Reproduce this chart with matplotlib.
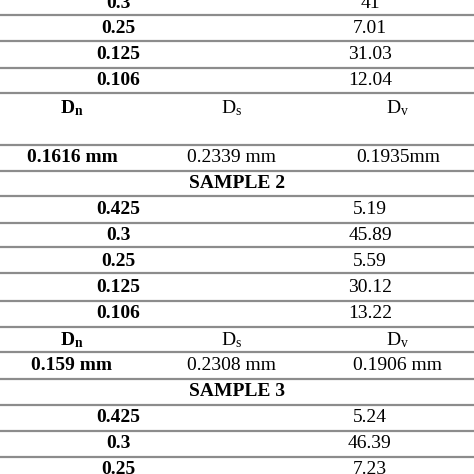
import matplotlib.pyplot as plt

plt.rcParams['font.family'] = 'Liberation Serif'
plt.rcParams['mathtext.fontset'] = 'custom'
plt.rcParams['mathtext.rm'] = 'Liberation Serif'
plt.rcParams['mathtext.bf'] = 'Liberation Serif:bold'

# table content (top is cut off in the reference)
sieve_s1 = ['0.3', '0.25', '0.125', '0.106']
weight_s1 = ['41', '7.01', '31.03', '12.04']
diam_s1 = ['0.1616 mm', '0.2339 mm', '0.1935mm']
sieve_s2 = ['0.425', '0.3', '0.25', '0.125', '0.106']
weight_s2 = ['5.19', '45.89', '5.59', '30.12', '13.22']
diam_s2 = ['0.159 mm', '0.2308 mm', '0.1906 mm']
sieve_s3 = ['0.425', '0.3', '0.25']
weight_s3 = ['5.24', '46.39', '7.23']
diam_heads = [r'$\mathbf{D_n}$', r'$\mathrm{D_s}$', r'$\mathrm{D_v}$']

# layout in pixels
row_y = [3, 28, 54, 80, 108, 158, 184, 209, 235, 261, 287, 313, 340, 365, 392, 418, 443, 470]
line_y = [15, 41, 68, 93, 145, 171, 196, 223, 247, 273, 301, 327, 352, 379, 405, 431, 457]
col3_x = [72, 232, 398]
fs = 14

fig = plt.figure(figsize=(4.74, 4.74), dpi=100)
ax = fig.add_axes([0, 0, 1, 1])
ax.set_xlim(0, 474)
ax.set_ylim(474, 0)
ax.axis('off')

for y in line_y:
    ax.axhline(y, color='#8c8c8c', lw=1.6)

rows = []
for s, w in zip(sieve_s1, weight_s1):
    rows.append(('pair', s, w))
rows.append(('diam', diam_heads, None))
rows.append(('dval', diam_s1, None))
rows.append(('title', 'SAMPLE 2', None))
for s, w in zip(sieve_s2, weight_s2):
    rows.append(('pair', s, w))
rows.append(('diam', diam_heads, None))
rows.append(('dval', diam_s2, None))
rows.append(('title', 'SAMPLE 3', None))
for s, w in zip(sieve_s3, weight_s3):
    rows.append(('pair', s, w))

for (kind, a, b), y in zip(rows, row_y):
    if kind == 'pair':
        ax.text(118, y, a, ha='center', va='center', fontsize=fs, fontweight='bold')
        ax.text(370, y, b, ha='center', va='center', fontsize=fs)
    elif kind == 'title':
        ax.text(237, y, a, ha='center', va='center', fontsize=fs, fontweight='bold')
    else:
        for i, (x, t) in enumerate(zip(col3_x, a)):
            ax.text(x, y, t, ha='center', va='center', fontsize=fs,
                    fontweight='bold' if i == 0 else 'normal')

fig.savefig('out.png', dpi=100)
